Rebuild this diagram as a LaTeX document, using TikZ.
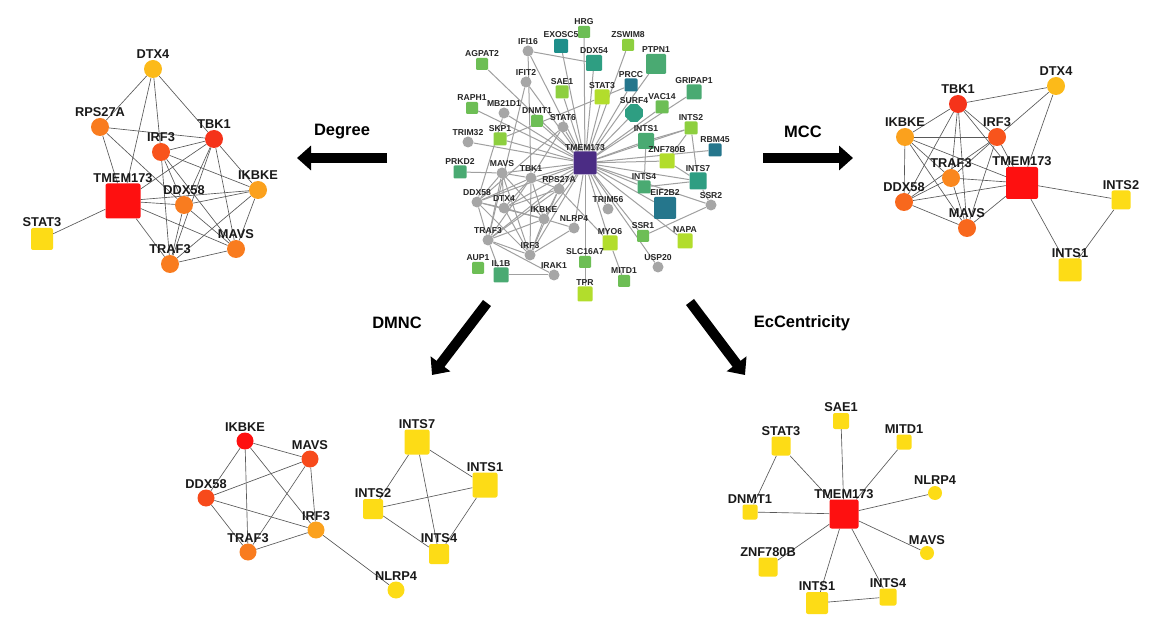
\documentclass[tikz,border=0pt]{standalone}
\usepackage{fontspec}
\setmainfont{Liberation Sans}
\usetikzlibrary{arrows.meta,shapes.geometric,backgrounds}
\definecolor{cgray}{HTML}{A6A6A6}
\definecolor{cedgec}{HTML}{A0A0A0}
\definecolor{cpurple}{HTML}{4B2C84}
\definecolor{cteal}{HTML}{25768C}
\definecolor{cteal2}{HTML}{1E8E8A}
\definecolor{cgt}{HTML}{2E9E82}
\definecolor{cgreen}{HTML}{4AAA72}
\definecolor{cmg}{HTML}{6DBE55}
\definecolor{clg}{HTML}{8DCF3F}
\definecolor{cyg}{HTML}{B2DD2C}
\definecolor{sred}{HTML}{FE1010}
\definecolor{sro}{HTML}{F5331A}
\definecolor{sor1}{HTML}{F8541C}
\definecolor{sor2}{HTML}{F97C1F}
\definecolor{slo}{HTML}{FBA11D}
\definecolor{syo}{HTML}{FCBA19}
\definecolor{syel}{HTML}{FDDC16}
\tikzset{
  clab/.style={font=\fontsize{8.6}{9}\selectfont\bfseries, inner sep=0.6pt, text=black!85},
  slab/.style={font=\fontsize{12.8}{13}\selectfont\bfseries, inner sep=0.8pt, text=black!90},
  csq/.style={rectangle, rounded corners=1.2pt, fill=#1, inner sep=0pt},
  ccir/.style={circle, fill=cgray, minimum size=11pt, inner sep=0pt},
  ssq/.style={rectangle, rounded corners=2pt, fill=#1, inner sep=0pt},
  scir/.style={circle, fill=#1, minimum size=18pt, inner sep=0pt},
  cedge/.style={draw=cedgec, line width=1pt},
  sedge/.style={draw=black!65, line width=0.65pt},
  bigarrow/.style={draw=black, line width=10pt, -{Triangle[width=24pt,length=14pt]}},
  arrlab/.style={font=\fontsize{16.5}{17}\selectfont\bfseries}
}
\begin{document}
\begin{tikzpicture}[x=1pt,y=-1pt]
\useasboundingbox (0,0) rectangle (1170,620);
\begin{scope}[on background layer]
\fill[white] (0,0) rectangle (1170,620);
\end{scope}

% ================= CENTER NETWORK =================
\node[csq=cmg, minimum size=12pt, label={[clab]above:HRG}] (HRG) at (584,32) {};
\node[csq=cteal2, minimum size=14pt, label={[clab]above:EXOSC5}] (EXOSC5) at (561,46) {};
\node[csq=clg, minimum size=12pt, label={[clab]above:ZSWIM8}] (ZSWIM8) at (628,45) {};
\node[ccir, label={[clab]above:IFI16}] (IFI16) at (528,51) {};
\node[csq=cgt, minimum size=16pt, label={[clab]above:DDX54}] (DDX54) at (594,63) {};
\node[csq=cgreen, minimum size=20pt, label={[clab]above:PTPN1}] (PTPN1) at (656,64) {};
\node[csq=cmg, minimum size=12pt, label={[clab]above:AGPAT2}] (AGPAT2) at (482,64) {};
\node[ccir, label={[clab]above:IFIT2}] (IFIT2) at (526,82) {};
\node[csq=clg, minimum size=13pt, label={[clab]above:SAE1}] (SAE1) at (562,92) {};
\node[csq=cteal, minimum size=13pt, label={[clab]above:PRCC}] (PRCC) at (631,85) {};
\node[csq=cyg, minimum size=15pt, label={[clab]above:STAT3}] (STAT3) at (602,97) {};
\node[csq=cgreen, minimum size=15pt, label={[clab]above:GRIPAP1}] (GRIPAP1) at (694,92) {};
\node[csq=cmg, minimum size=12pt, label={[clab]above:RAPH1}] (RAPH1) at (472,108) {};
\node[ccir, label={[clab]above:MB21D1}] (MB21D1) at (504,113) {};
\node[regular polygon, regular polygon sides=8, fill=cgt, minimum size=19pt, inner sep=0pt, label={[clab]above:SURF4}] (SURF4) at (634,113) {};
\node[csq=cmg, minimum size=13pt, label={[clab]above:VAC14}] (VAC14) at (662,107) {};
\node[csq=cmg, minimum size=12pt, label={[clab]above:DNMT1}] (DNMT1) at (537,121) {};
\node[ccir, label={[clab]above:STAT6}] (STAT6) at (563,127) {};
\node[csq=clg, minimum size=13pt, label={[clab]above:INTS2}] (INTS2) at (691,128) {};
\node[ccir, label={[clab]above:TRIM32}] (TRIM32) at (468,142) {};
\node[csq=clg, minimum size=13pt, label={[clab]above:SKP1}] (SKP1) at (500,139) {};
\node[csq=cgreen, minimum size=16pt, label={[clab]above:INTS1}] (INTS1) at (646,141) {};
\node[csq=cteal, minimum size=13pt, label={[clab]above:RBM45}] (RBM45) at (715,150) {};
\node[csq=cyg, minimum size=15pt, label={[clab]above:ZNF780B}] (ZNF780B) at (667,161) {};
\node[csq=cgreen, minimum size=13pt, label={[clab]above:PRKD2}] (PRKD2) at (460,172) {};
\node[ccir, label={[clab]above:MAVS}] (MAVS) at (502,173) {};
\node[ccir, label={[clab]above:TBK1}] (TBK1) at (531,178) {};
\node[csq=cgt, minimum size=17pt, label={[clab]above:INTS7}] (INTS7) at (698,181) {};
\node[ccir, label={[clab]above:RPS27A}] (RPS27A) at (559,189) {};
\node[csq=cgreen, minimum size=13pt, label={[clab]above:INTS4}] (INTS4) at (644,187) {};
\node[ccir, label={[clab]above:DDX58}] (DDX58) at (477,202) {};
\node[ccir, label={[clab]above:DTX4}] (DTX4) at (504,208) {};
\node[csq=cteal, minimum size=22pt, label={[clab]above:EIF2B2}] (EIF2B2) at (665,208) {};
\node[ccir, label={[clab]above:SSR2}] (SSR2) at (711,205) {};
\node[ccir, label={[clab]above:TRIM56}] (TRIM56) at (608,209) {};
\node[ccir, label={[clab]above:IKBKE}] (IKBKE) at (544,219) {};
\node[ccir, label={[clab]above:NLRP4}] (NLRP4) at (574,228) {};
\node[ccir, label={[clab]above:TRAF3}] (TRAF3) at (488,240) {};
\node[csq=cyg, minimum size=15pt, label={[clab]above:MYO6}] (MYO6) at (610,243) {};
\node[csq=cmg, minimum size=12pt, label={[clab]above:SSR1}] (SSR1) at (643,236) {};
\node[csq=cyg, minimum size=15pt, label={[clab]above:NAPA}] (NAPA) at (685,241) {};
\node[ccir, label={[clab]above:IRF3}] (IRF3) at (530,255) {};
\node[csq=cmg, minimum size=12pt, label={[clab]above:AUP1}] (AUP1) at (478,268) {};
\node[csq=cgreen, minimum size=15pt, label={[clab]above:IL1B}] (IL1B) at (501,275) {};
\node[csq=cmg, minimum size=12pt, label={[clab]above:SLC16A7}] (SLC16A7) at (585,262) {};
\node[ccir, label={[clab]above:USP20}] (USP20) at (658,267) {};
\node[ccir, label={[clab]above:IRAK1}] (IRAK1) at (554,275) {};
\node[csq=cmg, minimum size=12pt, label={[clab]above:MITD1}] (MITD1) at (624,281) {};
\node[csq=cyg, minimum size=15pt, label={[clab]above:TPR}] (TPR) at (585,294) {};
\node[csq=cpurple, minimum size=23pt, label={[clab]above:TMEM173}] (TMEM) at (585,163) {};

\begin{scope}[on background layer]
\foreach \t in {HRG,EXOSC5,ZSWIM8,IFI16,DDX54,PTPN1,AGPAT2,SAE1,PRCC,STAT3,GRIPAP1,RAPH1,MB21D1,SURF4,VAC14,DNMT1,STAT6,INTS2,TRIM32,SKP1,INTS1,RBM45,ZNF780B,MAVS,TBK1,INTS7,RPS27A,INTS4,DDX58,DTX4,EIF2B2,TRIM56,IKBKE,NLRP4,MYO6,SSR1,NAPA,IRF3,USP20,TPR,TRAF3,IFIT2,SSR2}
  \draw[cedge] (TMEM) -- (\t);
\foreach \a/\b in {IFI16/DDX54,IFI16/TBK1,IFIT2/TRAF3,MB21D1/DDX58,STAT3/PRCC,STAT3/SKP1,STAT6/TBK1,STAT6/DDX58,PRKD2/MAVS,
  INTS2/INTS1,INTS2/ZNF780B,INTS2/INTS7,INTS1/INTS4,ZNF780B/INTS7,INTS4/INTS7,INTS7/SSR2,SSR2/SSR1,MYO6/MITD1,MYO6/RPS27A,
  SLC16A7/TPR,IL1B/IRAK1,
  MAVS/TBK1,MAVS/DDX58,MAVS/DTX4,MAVS/IKBKE,MAVS/TRAF3,MAVS/IRF3,TBK1/RPS27A,TBK1/DDX58,TBK1/DTX4,TBK1/IKBKE,TBK1/IRF3,TBK1/TRAF3,
  RPS27A/DTX4,RPS27A/IKBKE,RPS27A/IRF3,RPS27A/TRAF3,DDX58/DTX4,DDX58/TRAF3,DDX58/IKBKE,DDX58/IRF3,DTX4/IKBKE,DTX4/IRF3,
  IKBKE/TRAF3,IKBKE/IRF3,IKBKE/NLRP4,TRAF3/IRF3,TRAF3/IRAK1,IRF3/NLRP4,TRAF3/IL1B}
  \draw[cedge] (\a) -- (\b);
\end{scope}

% ================= DEGREE =================
\node[scir=syo, label={[slab]above:DTX4}] (dDTX4) at (153,69) {};
\node[scir=sor2, label={[slab]above:RPS27A}] (dRPS) at (100,127) {};
\node[scir=sro, label={[slab]above:TBK1}] (dTBK1) at (214,139) {};
\node[scir=sor1, label={[slab]above:IRF3}] (dIRF3) at (161,152) {};
\node[scir=slo, label={[slab]above:IKBKE}] (dIKBKE) at (258,190) {};
\node[ssq=sred, minimum size=35pt, label={[slab]above:TMEM173}] (dTMEM) at (123,201) {};
\node[scir=sor2, label={[slab]above:DDX58}] (dDDX58) at (184,205) {};
\node[ssq=syel, minimum size=22pt, label={[slab]above:STAT3}] (dSTAT3) at (42,239) {};
\node[scir=sor2, label={[slab]above:MAVS}] (dMAVS) at (236,249) {};
\node[scir=sor2, label={[slab]above:TRAF3}] (dTRAF3) at (170,264) {};
\begin{scope}[on background layer]
\foreach \a/\b in {dDTX4/dRPS,dDTX4/dTMEM,dDTX4/dIRF3,dDTX4/dTBK1,dRPS/dTBK1,dRPS/dTMEM,dRPS/dDDX58,
  dIRF3/dTBK1,dIRF3/dIKBKE,dIRF3/dDDX58,dIRF3/dMAVS,dIRF3/dTRAF3,dTBK1/dIKBKE,dTBK1/dDDX58,dTBK1/dTRAF3,dTBK1/dMAVS,dTBK1/dTMEM,
  dTMEM/dSTAT3,dTMEM/dDDX58,dTMEM/dIKBKE,dTMEM/dMAVS,dTMEM/dTRAF3,dIKBKE/dDDX58,dIKBKE/dTRAF3,dIKBKE/dMAVS,
  dDDX58/dMAVS,dDDX58/dTRAF3,dTRAF3/dMAVS}
  \draw[sedge] (\a) -- (\b);
\end{scope}

% ================= MCC =================
\node[scir=syo, label={[slab]above:DTX4}] (mDTX4) at (1056,86) {};
\node[scir=sro, label={[slab]above:TBK1}] (mTBK1) at (958,104) {};
\node[scir=slo, label={[slab]above:IKBKE}] (mIKBKE) at (905,137) {};
\node[scir=sor1, label={[slab]above:IRF3}] (mIRF3) at (997,137) {};
\node[scir=sor2!70!slo, label={[slab]above:TRAF3}] (mTRAF3) at (951,178) {};
\node[ssq=sred, minimum size=32pt, label={[slab]above:TMEM173}] (mTMEM) at (1022,183) {};
\node[scir=sor1!50!sor2, label={[slab]above:DDX58}] (mDDX58) at (904,202) {};
\node[ssq=syel, minimum size=19pt, label={[slab]above:INTS2}] (mINTS2) at (1121,200) {};
\node[scir=sor1!50!sor2, label={[slab]above:MAVS}] (mMAVS) at (967,228) {};
\node[ssq=syel, minimum size=23pt, label={[slab]above:INTS1}] (mINTS1) at (1070,270) {};
\begin{scope}[on background layer]
\foreach \a/\b in {mDTX4/mTBK1,mDTX4/mIRF3,mDTX4/mTMEM,mTBK1/mIKBKE,mTBK1/mIRF3,mTBK1/mTRAF3,mTBK1/mDDX58,mTBK1/mMAVS,mTBK1/mTMEM,
  mIKBKE/mIRF3,mIKBKE/mDDX58,mIKBKE/mTMEM,mIKBKE/mMAVS,mIKBKE/mTRAF3,mIRF3/mTMEM,mIRF3/mTRAF3,mIRF3/mDDX58,mIRF3/mMAVS,
  mTRAF3/mTMEM,mTRAF3/mDDX58,mTRAF3/mMAVS,mDDX58/mTMEM,mDDX58/mMAVS,mMAVS/mTMEM,mTMEM/mINTS2,mTMEM/mINTS1,mINTS1/mINTS2}
  \draw[sedge] (\a) -- (\b);
\end{scope}

% ================= DMNC =================
\node[scir=sred, minimum size=17pt, label={[slab]above:IKBKE}] (nIKBKE) at (245,441) {};
\node[scir=sor1!70!sro, minimum size=17pt, label={[slab]above:MAVS}] (nMAVS) at (310,459) {};
\node[scir=sor1!70!sro, minimum size=17pt, label={[slab]above:DDX58}] (nDDX58) at (206,498) {};
\node[scir=slo, minimum size=17pt, label={[slab]above:IRF3}] (nIRF3) at (316,530) {};
\node[scir=sor2, minimum size=17pt, label={[slab]above:TRAF3}] (nTRAF3) at (248,552) {};
\node[scir=syel, minimum size=17pt, label={[slab]above:NLRP4}] (nNLRP4) at (396,590) {};
\node[ssq=syel, minimum size=25pt, label={[slab]above:INTS7}] (nINTS7) at (417,442) {};
\node[ssq=syel, minimum size=25pt, label={[slab]above:INTS1}] (nINTS1) at (485,485) {};
\node[ssq=syel, minimum size=20pt, label={[slab]above:INTS2}] (nINTS2) at (373,509) {};
\node[ssq=syel, minimum size=20pt, label={[slab]above:INTS4}] (nINTS4) at (439,554) {};
\begin{scope}[on background layer]
\foreach \a/\b in {nIKBKE/nMAVS,nIKBKE/nDDX58,nIKBKE/nTRAF3,nIKBKE/nIRF3,nMAVS/nDDX58,nMAVS/nTRAF3,nMAVS/nIRF3,
  nDDX58/nIRF3,nDDX58/nTRAF3,nTRAF3/nIRF3,nIRF3/nNLRP4,
  nINTS7/nINTS2,nINTS7/nINTS1,nINTS7/nINTS4,nINTS1/nINTS2,nINTS1/nINTS4,nINTS2/nINTS4}
  \draw[sedge] (\a) -- (\b);
\end{scope}

% ================= ECCENTRICITY =================
\node[ssq=syel, minimum size=16pt, label={[slab]above:SAE1}] (eSAE1) at (841,421) {};
\node[ssq=syel, minimum size=19pt, label={[slab]above:STAT3}] (eSTAT3) at (781,446) {};
\node[ssq=syel, minimum size=15pt, label={[slab]above:MITD1}] (eMITD1) at (904,442) {};
\node[scir=syel, minimum size=14pt, label={[slab]above:NLRP4}] (eNLRP4) at (935,493) {};
\node[ssq=syel, minimum size=15pt, label={[slab]above:DNMT1}] (eDNMT1) at (750,512) {};
\node[ssq=sred, minimum size=29pt, label={[slab]above:TMEM173}] (eTMEM) at (844,514) {};
\node[scir=syel, minimum size=14pt, label={[slab]above:MAVS}] (eMAVS) at (927,553) {};
\node[ssq=syel, minimum size=19pt, label={[slab]above:ZNF780B}] (eZNF) at (768,567) {};
\node[ssq=syel, minimum size=22pt, label={[slab]above:INTS1}] (eINTS1) at (817,603) {};
\node[ssq=syel, minimum size=17pt, label={[slab]above:INTS4}] (eINTS4) at (888,597) {};
\begin{scope}[on background layer]
\foreach \t in {eSAE1,eSTAT3,eMITD1,eNLRP4,eDNMT1,eMAVS,eZNF,eINTS1,eINTS4}
  \draw[sedge] (eTMEM) -- (\t);
\draw[sedge] (eSTAT3) -- (eDNMT1);
\draw[sedge] (eINTS1) -- (eINTS4);
\end{scope}

% ================= ARROWS =================
\coordinate (aDs) at (387,158); \coordinate (aDe) at (297,158);
\coordinate (aMs) at (763,158); \coordinate (aMe) at (853,158);
\coordinate (aNs) at (487,303); \coordinate (aNe) at (432,375);
\coordinate (aEs) at (690,302); \coordinate (aEe) at (745,375);
\draw[bigarrow] (aDs) -- (aDe);
\draw[bigarrow] (aMs) -- (aMe);
\draw[bigarrow] (aNs) -- (aNe);
\draw[bigarrow] (aEs) -- (aEe);
\node[arrlab] (tDeg) at (342,132) {Degree};
\node[arrlab] (tMCC) at (803,132) {MCC};
\node[arrlab] (tDMNC) at (397,323) {DMNC};
\node[arrlab] (tEcc) at (802,323) {EcCentricity};
\end{tikzpicture}
\end{document}
